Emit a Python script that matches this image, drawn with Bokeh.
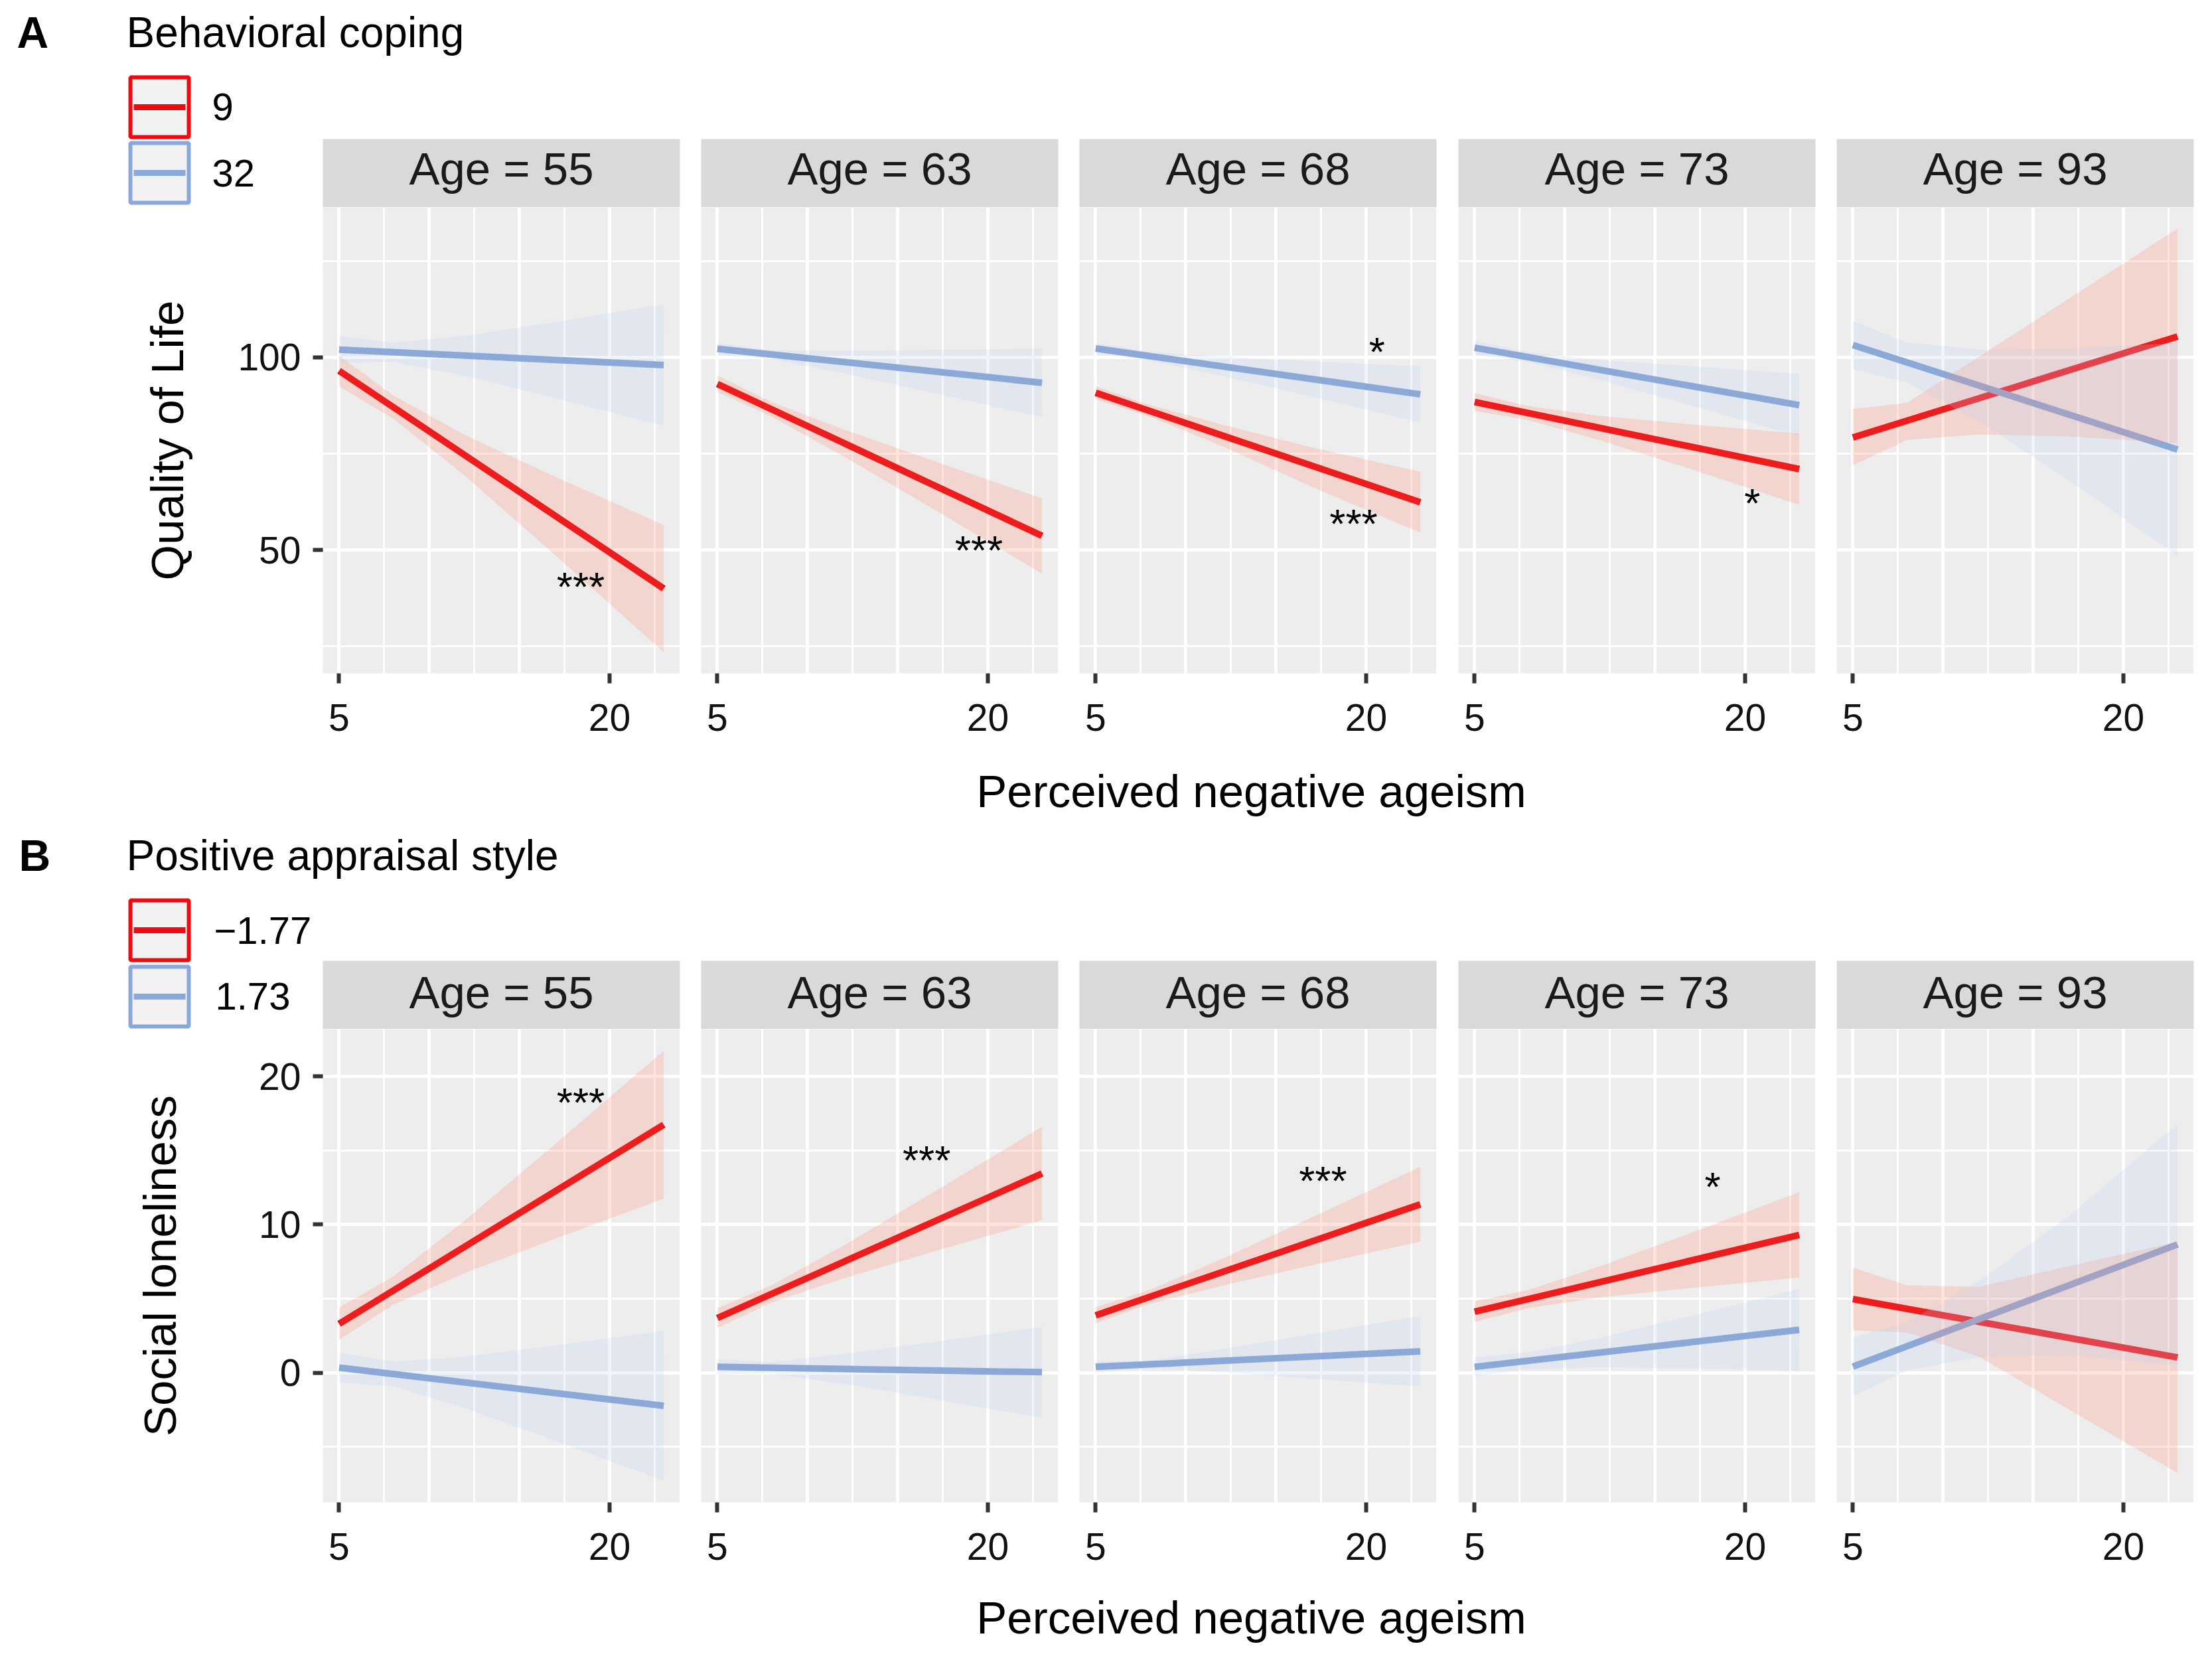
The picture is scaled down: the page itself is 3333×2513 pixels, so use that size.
import numpy as np
from bokeh.plotting import figure
from bokeh.models import Range1d, LinearAxis, FixedTicker, Grid, Spacer
from bokeh.layouts import row, column
from bokeh.core.properties import value
from bokeh.embed import file_html
from bokeh.resources import INLINE

# ---------------- data ----------------
AGES = [55, 63, 68, 73, 93]
STRIP_LABELS = ["Age = %d" % a for a in AGES]
X_FIT = [5, 23]
X_BAND = [5, 8, 12, 17, 23]
X_TICKS = [5, 20]
X_TICK_LABELS = ["5", "20"]
X_TITLE = "Perceived negative ageism"

# Panel A: Quality of Life by Behavioral coping (9 = red, 32 = blue)
A_TITLE = "Behavioral coping"
A_LEVELS = ["9", "32"]
A_Y_TITLE = "Quality of Life"
A_Y_TICKS = [50, 100]
A_Y_TICK_LABELS = ["50", "100"]
A_LOW_FIT = [[96.5, 40.0], [93.1, 53.7], [90.8, 62.4], [88.4, 71.0], [79.2, 105.4]]
A_LOW_UP = [[100.5, 90.1, 79.8, 69.0, 56.5], [95.3, 88.4, 81.3, 73.1, 63.4],
            [92.5, 87.6, 82.6, 76.6, 70.3], [90.7, 87.3, 84.8, 82.6, 80.2],
            [86.6, 88.2, 100.2, 115.3, 133.4]]
A_LOW_LO = [[92.5, 84.1, 69.2, 48.6, 23.5], [91.0, 84.6, 74.3, 60.6, 43.9],
            [89.1, 84.6, 77.0, 66.4, 54.5], [86.1, 83.7, 78.4, 71.0, 61.7],
            [72.0, 78.6, 80.0, 79.5, 77.7]]
A_HIGH_FIT = [[102.0, 98.0], [102.2, 93.4], [102.3, 90.4], [102.5, 87.6], [103.2, 76.1]]
A_HIGH_UP = [[105.5, 103.8, 105.6, 109.2, 113.7], [103.7, 101.8, 101.7, 101.9, 102.3],
             [103.7, 101.4, 100.2, 99.0, 97.7], [104.3, 101.3, 99.3, 97.7, 95.7],
             [109.4, 103.9, 102.0, 102.2, 103.7]]
A_HIGH_LO = [[98.5, 98.8, 95.2, 89.4, 82.3], [100.7, 99.6, 95.9, 90.7, 84.5],
             [101.0, 99.2, 95.2, 89.8, 83.1], [100.7, 98.8, 94.1, 87.5, 79.5],
             [97.0, 93.5, 83.4, 68.0, 48.5]]
A_STAR_FACET = [0, 1, 2, 2, 3]
A_STAR_X = [18.4, 19.5, 20.6, 19.3, 20.4]
A_STAR_Y = [41.1, 50.5, 102.0, 57.4, 62.7]
A_STAR_TEXT = ["***", "***", "*", "***", "*"]

# Panel B: Social loneliness by Positive appraisal style (-1.77 = red, 1.73 = blue)
B_TITLE = "Positive appraisal style"
B_LEVELS = ["\u22121.77", "1.73"]
B_Y_TITLE = "Social loneliness"
B_Y_TICKS = [0, 10, 20]
B_Y_TICK_LABELS = ["0", "10", "20"]
B_LOW_FIT = [[3.3, 16.75], [3.69, 13.45], [3.87, 11.37], [4.12, 9.3], [4.97, 1.03]]
B_LOW_UP = [[4.39, 6.49, 10.31, 15.46, 21.75], [4.36, 5.9, 8.59, 12.2, 16.6],
            [4.42, 5.59, 7.68, 10.49, 13.9], [4.81, 5.6, 7.21, 9.44, 12.18],
            [7.09, 5.9, 5.8, 7.2, 8.84]]
B_LOW_LO = [[2.22, 4.59, 6.75, 9.06, 11.75], [3.02, 4.74, 6.37, 8.18, 10.3],
            [3.33, 4.65, 5.88, 7.25, 8.84], [3.43, 4.36, 5.09, 5.72, 6.42],
            [2.85, 2.72, 1.08, -2.5, -6.78]]
B_HIGH_FIT = [[0.34, -2.24], [0.39, 0.03], [0.39, 1.44], [0.39, 2.89], [0.41, 8.66]]
B_HIGH_UP = [[1.34, 0.74, 1.09, 1.84, 2.83], [0.9, 0.72, 1.26, 2.08, 3.08],
             [0.75, 0.81, 1.57, 2.59, 3.82], [1.03, 1.38, 2.36, 3.84, 5.65],
             [2.4, 3.4, 6.2, 10.6, 16.8]]
B_HIGH_LO = [[-0.66, -0.92, -2.41, -4.6, -7.31], [-0.12, -0.06, -0.76, -1.78, -3.02],
             [0.03, 0.31, 0.03, -0.41, -0.94], [-0.25, 0.24, 0.36, 0.28, 0.13],
             [-1.6, 0.16, 1.04, 1.2, 0.5]]
B_STAR_FACET = [0, 1, 2, 3]
B_STAR_X = [18.4, 16.6, 17.6, 18.2]
B_STAR_Y = [18.4, 14.5, 13.1, 12.7]
B_STAR_TEXT = ["***", "***", "***", "*"]

# ---------------- style ----------------
FONT = "Liberation Sans"
RED = "#E8000B"
BLUE = "#7F9ECF"
BLUE_KEY = "#8AA8DA"
RED_KEY = "#F00A10"
RED_BAND = "#FF8060"
BLUE_BAND = "#BBCDF6"
BAND_ALPHA = 0.22
PANEL_BG = "#EDEDED"
STRIP_BG = "#D9D9D9"
TEXT = "#111111"
TXT_SHIFT = -24  # compensates the renderer's baseline placement

PAGE_W = 3300
FACET_LEFT = [486, 1056, 1626, 2197, 2767]
FACET_W = 538
LEFT_BORDER = 478
BOTTOM = 113
GAPS = [32, 32, 33, 32]


def header_fig(y0, y1):
    p = figure(width=PAGE_W, height=y1 - y0, x_range=Range1d(8, 8 + PAGE_W),
               y_range=Range1d(y1, y0), x_axis_type=None, y_axis_type=None,
               toolbar_location=None, output_backend="svg", min_border=0,
               outline_line_color=None, background_fill_color="white",
               border_fill_color="white", title=None)
    return p


def txt(p, x, y, s, size, align="left", bold=False, shift=TXT_SHIFT):
    p.text(x=[x], y=[y], text=[s], text_font=value(FONT),
           text_font_size=value(size), text_align=align,
           text_baseline="alphabetic", text_color="black", y_offset=shift,
           text_font_style="bold" if bold else "normal")


def legend_key(p, top, color):
    p.quad(left=[196], right=[284], top=[top + 3], bottom=[top + 93],
           fill_color="#F2F2F2", line_color=color, line_width=6)
    p.segment(x0=[201], y0=[top + 48], x1=[279], y1=[top + 48],
              line_color=color, line_width=9)


def strips(p, top, bottom, base):
    p.quad(left=FACET_LEFT, right=[l + FACET_W for l in FACET_LEFT],
           top=[top] * 5, bottom=[bottom] * 5, fill_color=STRIP_BG, line_color=None)
    p.text(x=[l + FACET_W / 2 for l in FACET_LEFT], y=[base] * 5, text=STRIP_LABELS,
           text_font=value(FONT), text_font_size=value("69px"), text_align="center",
           text_baseline="alphabetic", text_color="#1A1A1A", y_offset=TXT_SHIFT)


def y_range_of(ups, los):
    lo = min(min(v) for v in los)
    hi = max(max(v) for v in ups)
    pad = 0.05 * (hi - lo)
    return lo - pad, hi + pad


def make_row(frame_h, low_fit, low_up, low_lo, high_fit, high_up, high_lo,
             yticks, ylabels, ytitle, ylab_standoff, star_f, star_x, star_y, star_t,
             ygrid_minor):
    yr = y_range_of(low_up + high_up, low_lo + high_lo)
    xs = X_BAND
    xpad = 0.05 * (max(xs) - min(xs))
    figs = []
    for i in range(5):
        first = i == 0
        w = FACET_W + (LEFT_BORDER if first else 0)
        p = figure(width=w, height=frame_h + BOTTOM,
                   x_range=Range1d(min(xs) - xpad, max(xs) + xpad),
                   y_range=Range1d(*yr), x_axis_type=None, y_axis_type=None,
                   toolbar_location=None, output_backend="svg",
                   min_border_left=LEFT_BORDER if first else 0, min_border_right=0,
                   min_border_top=0, min_border_bottom=BOTTOM,
                   background_fill_color=PANEL_BG, border_fill_color="white",
                   outline_line_color=None, title=None)
        p.add_layout(Grid(dimension=0,
                          ticker=FixedTicker(ticks=list(np.arange(5, 21, 5)),
                                             minor_ticks=list(np.arange(7.5, 23, 5))),
                          grid_line_color="white", grid_line_width=5,
                          minor_grid_line_color="white", minor_grid_line_width=3))
        p.add_layout(Grid(dimension=1,
                          ticker=FixedTicker(ticks=yticks, minor_ticks=ygrid_minor),
                          grid_line_color="white", grid_line_width=5,
                          minor_grid_line_color="white", minor_grid_line_width=3))
        xa = LinearAxis(ticker=FixedTicker(ticks=X_TICKS),
                        major_label_overrides={t: l for t, l in zip(X_TICKS, X_TICK_LABELS)},
                        axis_line_color=None, major_tick_out=15, major_tick_in=0,
                        major_tick_line_width=6, major_tick_line_color="#333333",
                        minor_tick_line_color=None, major_label_standoff=31,
                        major_label_text_font=FONT, major_label_text_font_size="57px",
                        major_label_text_color=TEXT)
        p.add_layout(xa, "below")
        if first:
            ya = LinearAxis(ticker=FixedTicker(ticks=yticks),
                            major_label_overrides={t: l for t, l in zip(yticks, ylabels)},
                            axis_line_color=None, major_tick_out=15, major_tick_in=0,
                            major_tick_line_width=6, major_tick_line_color="#333333",
                            minor_tick_line_color=None, major_label_standoff=18,
                            major_label_text_font=FONT, major_label_text_font_size="57px",
                            major_label_text_color=TEXT,
                            axis_label=ytitle, axis_label_text_font=FONT,
                            axis_label_text_font_size="69px",
                            axis_label_text_font_style="normal",
                            axis_label_text_color="black",
                            axis_label_standoff=ylab_standoff)
            p.add_layout(ya, "left")
        # fitted lines (drawn under the ribbons)
        p.line(X_FIT, low_fit[i], line_color=RED, line_width=10)
        p.line(X_FIT, high_fit[i], line_color=BLUE, line_width=10)
        p.varea(x=X_BAND, y1=low_lo[i], y2=low_up[i], fill_color=RED_BAND,
                fill_alpha=BAND_ALPHA)
        p.varea(x=X_BAND, y1=high_lo[i], y2=high_up[i], fill_color=BLUE_BAND,
                fill_alpha=BAND_ALPHA)
        idx = [k for k, f in enumerate(star_f) if f == i]
        if idx:
            p.text(x=[star_x[k] for k in idx], y=[star_y[k] for k in idx],
                   text=[star_t[k] for k in idx], text_font=value(FONT),
                   text_font_size=value("62px"), text_align="center",
                   text_baseline="alphabetic", y_offset=3, text_color="black")
        figs.append(p)
    h = frame_h + BOTTOM
    kids = [figs[0]]
    for i in range(1, 5):
        kids.append(Spacer(width=GAPS[i - 1], height=h))
        kids.append(figs[i])
    return row(*kids, spacing=0)


# ---------- header for panel A ----------
hA = header_fig(8, 312)
txt(hA, 25, 72, "A", "66px", bold=True)
txt(hA, 190, 72, A_TITLE, "64px")
legend_key(hA, 113, RED_KEY)
legend_key(hA, 212, BLUE_KEY)
txt(hA, 319, 184, A_LEVELS[0], "58px")
txt(hA, 319, 284, A_LEVELS[1], "58px")
strips(hA, 209, 312, 278)

rowA = make_row(702, A_LOW_FIT, A_LOW_UP, A_LOW_LO, A_HIGH_FIT, A_HIGH_UP, A_HIGH_LO,
                A_Y_TICKS, A_Y_TICK_LABELS, A_Y_TITLE, 64,
                A_STAR_FACET, A_STAR_X, A_STAR_Y, A_STAR_TEXT, [25, 75, 125])

# ---------- middle: x title A, header B ----------
mid = header_fig(1127, 1550)
txt(mid, 1885, 1218, X_TITLE, "69px", align="center", shift=-26)
txt(mid, 28, 1312, "B", "66px", bold=True)
txt(mid, 190, 1312, B_TITLE, "64px")
legend_key(mid, 1353, RED_KEY)
legend_key(mid, 1453, BLUE_KEY)
txt(mid, 322, 1425, B_LEVELS[0], "58px")
txt(mid, 324, 1524, B_LEVELS[1], "58px")
strips(mid, 1447, 1550, 1519)

rowB = make_row(713, B_LOW_FIT, B_LOW_UP, B_LOW_LO, B_HIGH_FIT, B_HIGH_UP, B_HIGH_LO,
                B_Y_TICKS, B_Y_TICK_LABELS, B_Y_TITLE, 107,
                B_STAR_FACET, B_STAR_X, B_STAR_Y, B_STAR_TEXT, [-5, 5, 15])

bot = header_fig(2376, 2487)
txt(bot, 1885, 2463, X_TITLE, "69px", align="center", shift=-26)

body = column(hA, rowA, mid, rowB, bot, spacing=0)
layout = column(Spacer(width=8, height=8), row(Spacer(width=8, height=8), body, spacing=0),
                spacing=0)
open("out.html", "w").write(file_html(layout, INLINE))
